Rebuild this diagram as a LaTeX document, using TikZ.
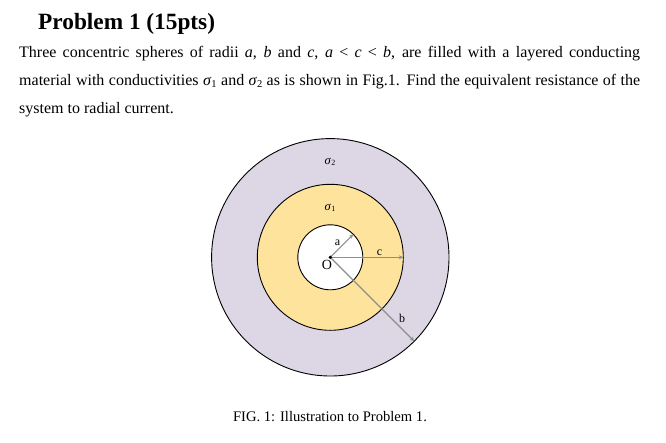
\documentclass[tikz,border=0pt]{standalone}
\usepackage{fontspec}
\setmainfont{Liberation Serif}
\usetikzlibrary{arrows.meta}
\definecolor{outerfill}{HTML}{DDD7E5}
\definecolor{midfill}{HTML}{FEE39C}
\definecolor{radius}{HTML}{8E8E8E}
\newcommand{\mi}[1]{\textit{#1}}
\begin{document}
\begin{tikzpicture}[x=1pt,y=-1pt,
  ring/.style={draw=black,line width=0.9pt,circle,inner sep=0pt,minimum size=#1},
  radline/.style={draw=radius,line width=1.2pt,-{Stealth[length=4.5pt,width=4pt]}},
  bodyline/.style={anchor=west,inner sep=0pt,font=\fontsize{16}{16}\selectfont},
  lbl/.style={inner sep=0pt,font=\fontsize{12}{12}\selectfont},
  sig/.style={inner sep=0pt,font=\fontsize{12.5}{13}\selectfont}]
\useasboundingbox (0,0) rectangle (666,442);
\fill[white] (0,0) rectangle (666,442);
\node[anchor=west,inner sep=0pt,font=\fontsize{23.3}{24}\selectfont\bfseries] (title) at (38,23.5) {Problem 1 (15pts)};
\node[bodyline] (l1) at (19,54) {\makebox[621pt][s]{Three concentric spheres of radii \mi{a}, \mi{b} and \mi{c}, \mi{a} < \mi{c} < \mi{b}, are filled with a layered conducting}};
\node[bodyline] (l2) at (19,82) {\makebox[621pt][s]{material with conductivities \mi{σ}\raisebox{-2pt}{\fontsize{10.5}{10}\selectfont 1} and \mi{σ}\raisebox{-2pt}{\fontsize{10.5}{10}\selectfont 2} as is shown in Fig.1. Find the equivalent resistance of the}};
\node[bodyline] (l3) at (19,110) {system to radial current.};
\node[ring=237.4pt,fill=outerfill] (outer) at (330.3,257.3) {};
\node[ring=146pt,fill=midfill] (mid) at (330.3,257.3) {};
\node[ring=65pt,fill=white] (inner) at (330.3,257.3) {};
\coordinate (O) at (330.3,257.3);
\coordinate (aend) at (353.3,234.3);
\coordinate (cend) at (403.3,257.3);
\coordinate (bend) at (414.2,341.2);
\draw[radline] (O) -- (aend);
\draw[radline] (O) -- (cend);
\draw[radline] (O) -- (bend);
\fill (O) circle (1.8pt);
\node[lbl] (a) at (337.5,242.5) {a};
\node[lbl] (c) at (379.5,252.5) {c};
\node[lbl] (b) at (402,318.5) {b};
\node[lbl,font=\fontsize{14}{14}\selectfont] (o) at (327,265) {O};
\node[sig] (s2) at (330,162) {\mi{σ}\raisebox{-1.5pt}{\fontsize{8}{8}\selectfont 2}};
\node[sig] (s1) at (330,208) {\mi{σ}\raisebox{-1.5pt}{\fontsize{8}{8}\selectfont 1}};
\node[inner sep=0pt,font=\fontsize{14.6}{15}\selectfont] (cap) at (330,417) {FIG. 1: Illustration to Problem 1.};
\end{tikzpicture}
\end{document}
